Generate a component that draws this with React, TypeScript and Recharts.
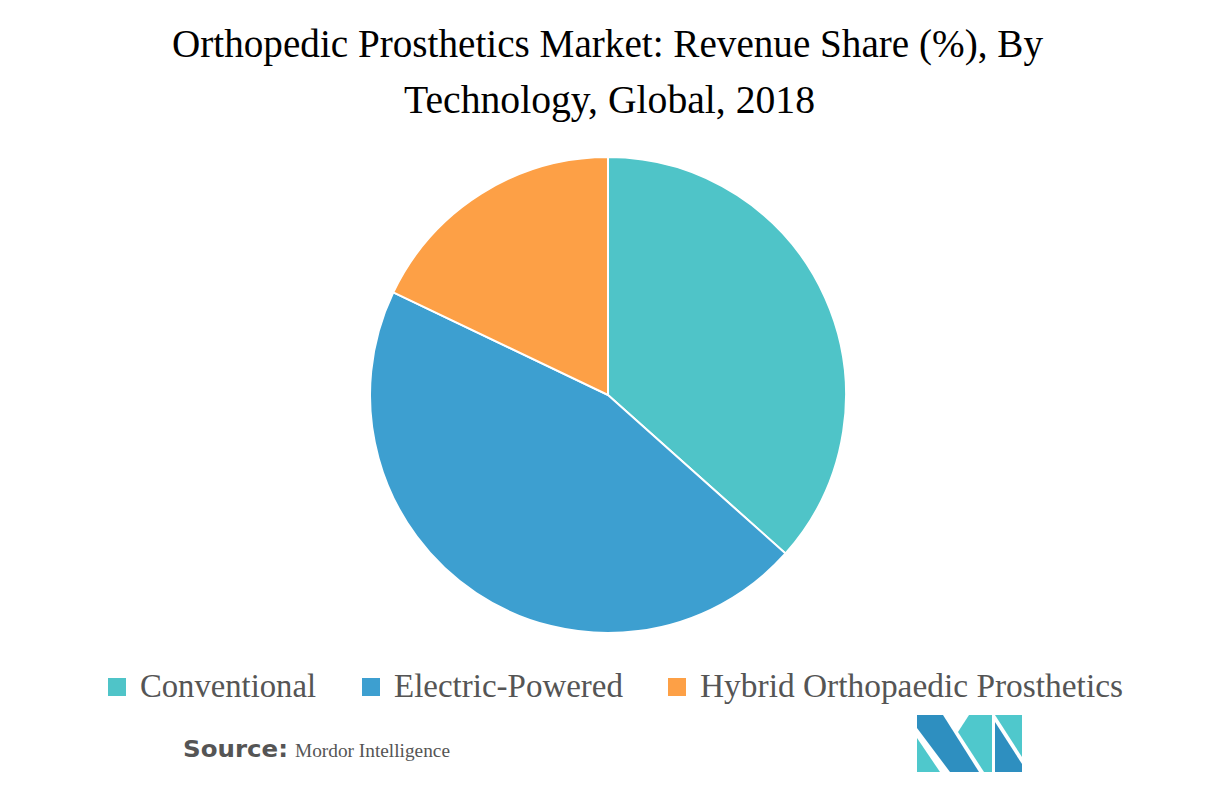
import React from 'react';
import { PieChart, Pie, Cell } from 'recharts';

const categories = ['Conventional', 'Electric-Powered', 'Hybrid Orthopaedic Prosthetics'];
const shares = [36.6, 45.5, 17.9];
const colors = ['#4FC4C8', '#3D9FD0', '#FDA046'];

const data = categories.map((name, i) => ({ name, value: shares[i] }));

const serif = 'Liberation Serif';

export default function App() {
  return (
    <div style={{ position: 'relative', width: 1217, height: 786, background: '#fff', margin: -8, overflow: 'hidden' }}>
      <svg width={1217} height={140} style={{ position: 'absolute', left: 0, top: 0 }}>
        <text x={607.5} y={57} textAnchor="middle" style={{ fontFamily: serif }} fontSize={39} fill="#000" textLength={871} lengthAdjust="spacingAndGlyphs">
          Orthopedic Prosthetics Market: Revenue Share (%), By
        </text>
        <text x={609.5} y={113} textAnchor="middle" style={{ fontFamily: serif }} fontSize={39} fill="#000" textLength={411} lengthAdjust="spacingAndGlyphs">
          Technology, Global, 2018
        </text>
      </svg>
      <div style={{ position: 'absolute', left: 0, top: 0 }}>
        <PieChart width={1217} height={786} margin={{ top: 0, right: 0, bottom: 0, left: 0 }}>
          <Pie
            data={data}
            dataKey="value"
            nameKey="name"
            cx={608}
            cy={395}
            outerRadius={238}
            startAngle={90}
            endAngle={-270}
            stroke="#fff"
            strokeWidth={2}
            isAnimationActive={false}
          >
            {data.map((d, i) => (
              <Cell key={d.name} fill={colors[i]} />
            ))}
          </Pie>
        </PieChart>
      </div>
      <svg width={1217} height={786} style={{ position: 'absolute', left: 0, top: 0, pointerEvents: 'none' }}>
        {[
          { x: 108, tx: 140, w: 176 },
          { x: 362, tx: 394, w: 229 },
          { x: 668, tx: 700, w: 423 },
        ].map((p, i) => (
          <g key={categories[i]}>
            <rect x={p.x} y={678} width={18} height={18} fill={colors[i]} />
            <text x={p.tx} y={697} style={{ fontFamily: serif }} fontSize={33} fill="#555" textLength={p.w} lengthAdjust="spacingAndGlyphs">
              {categories[i]}
            </text>
          </g>
        ))}
        <text x={183} y={757} style={{ fontFamily: 'DejaVu Sans' }} fontWeight={900} fontSize={23} fill="#555" textLength={105} lengthAdjust="spacingAndGlyphs">
          Source:
        </text>
        <text x={295} y={757} style={{ fontFamily: serif }} fontSize={19} fill="#555" textLength={155} lengthAdjust="spacingAndGlyphs">
          Mordor Intelligence
        </text>
        <g>
          <polygon points="917,715 943,715 979,772 950,772 917,728" fill="#2E8FC0" />
          <polygon points="917,738 917,772 940,772" fill="#4FC8CC" />
          <polygon points="969,715 992,715 992,772 984,772 958,732" fill="#4FC8CC" />
          <polygon points="995,715 1022,715 1022,757" fill="#4FC8CC" />
          <polygon points="995,722 1022,764 1022,772 995,772" fill="#2E8FC0" />
        </g>
      </svg>
    </div>
  );
}
